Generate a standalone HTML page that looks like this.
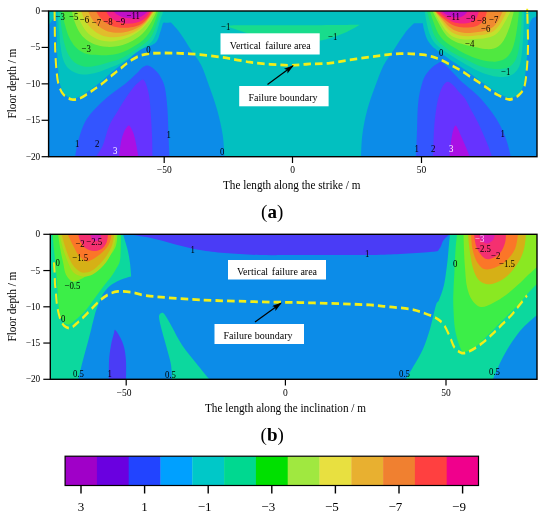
<!DOCTYPE html>
<html><head><meta charset="utf-8"><title>Figure</title>
<style>html,body{margin:0;padding:0;background:#fff}svg{display:block}</style></head>
<body>
<svg width="550" height="523" viewBox="0 0 550 523" font-family="'Liberation Serif', serif">
<defs><marker id="ah" markerWidth="10" markerHeight="6" refX="9" refY="3" orient="auto" markerUnits="userSpaceOnUse"><path d="M0,0L10,3L0,6L2,3Z" fill="#000"/></marker></defs>
<clipPath id="ca"><rect x="48.6" y="11" width="488.4" height="145.7"/></clipPath>
<g clip-path="url(#ca)">
<rect x="48.6" y="11" width="488.4" height="145.7" fill="#02c0c0"/>
<path d="M48.0,26.0C48.5,25.3 50.0,23.4 51.0,22.0C52.0,20.6 53.2,18.5 54.0,17.5C54.8,16.5 55.6,13.9 56.0,16.0C56.4,18.1 56.3,24.3 56.5,30.0C56.7,35.7 56.8,43.7 57.0,50.0C57.2,56.3 57.5,62.3 58.0,68.0C58.5,73.7 58.9,79.7 60.0,84.0C61.1,88.3 62.5,91.6 64.5,94.0C66.5,96.4 69.4,98.1 72.0,98.5C74.6,98.9 77.0,97.9 80.0,96.5C83.0,95.1 86.7,92.3 90.0,90.0C93.3,87.7 96.3,85.5 100.0,82.5C103.7,79.5 108.3,75.1 112.0,72.0C115.7,68.9 119.2,66.2 122.0,64.0C124.8,61.8 126.8,60.9 129.0,59.0C131.2,57.1 133.3,54.2 135.5,52.5C137.7,50.8 139.2,50.0 142.0,48.7C144.8,47.5 149.5,46.3 152.0,45.0C154.5,43.7 155.7,43.0 157.0,41.0C158.3,39.0 159.0,36.0 160.0,33.0C161.0,30.0 162.5,24.7 163.0,23.0C164.3,22.9 169.7,22.7 171.0,22.6C172.5,24.3 176.7,28.5 180.0,33.0C183.3,37.5 187.1,44.0 190.7,49.4C194.3,54.8 198.3,59.2 201.4,65.4C204.5,71.6 206.7,79.2 209.4,86.8C212.1,94.4 215.2,102.8 217.4,110.8C219.6,118.8 221.5,127.2 222.7,134.9C223.9,142.6 224.2,153.3 224.5,157.0C195.1,157.0 77.4,157.0 48.0,157.0C48.0,135.2 48.0,47.8 48.0,26.0Z" fill="#0c8ce8" />
<path d="M57.5,11.0C57.8,14.2 58.5,24.2 59.0,30.0C59.5,35.8 59.8,41.2 60.5,46.0C61.2,50.8 61.8,55.3 63.0,59.0C64.2,62.7 65.8,65.7 68.0,68.0C70.2,70.3 73.0,71.9 76.0,73.0C79.0,74.1 82.5,74.6 86.0,74.5C89.5,74.4 93.3,73.5 97.0,72.5C100.7,71.5 104.2,70.0 108.0,68.5C111.8,67.0 116.2,65.5 120.0,63.5C123.8,61.5 127.7,58.8 131.0,56.5C134.3,54.2 137.2,51.9 140.0,50.0C142.8,48.1 145.8,46.7 148.0,45.0C150.2,43.3 151.5,42.3 153.0,40.0C154.5,37.7 155.8,34.2 157.0,31.0C158.2,27.8 158.9,24.3 160.0,21.0C161.1,17.7 162.9,12.7 163.5,11.0Z" fill="#12d4a2" />
<path d="M59.5,11.0C59.8,13.8 60.8,22.8 61.5,28.0C62.2,33.2 62.9,37.7 64.0,42.0C65.1,46.3 66.3,50.7 68.0,54.0C69.7,57.3 71.7,60.0 74.0,62.0C76.3,64.0 79.3,65.2 82.0,66.0C84.7,66.8 87.0,67.0 90.0,66.8C93.0,66.6 96.7,65.8 100.0,65.0C103.3,64.2 106.7,63.0 110.0,62.0C113.3,61.0 116.7,60.4 120.0,59.0C123.3,57.6 126.8,55.4 130.0,53.5C133.2,51.6 136.3,49.3 139.0,47.5C141.7,45.7 144.0,44.2 146.0,42.5C148.0,40.8 149.5,39.2 151.0,37.0C152.5,34.8 153.8,31.8 155.0,29.0C156.2,26.2 157.0,23.0 158.0,20.0C159.0,17.0 160.5,12.5 161.0,11.0Z" fill="#20e070" />
<path d="M62.0,11.0C62.5,13.3 63.8,20.7 65.0,25.0C66.2,29.3 67.3,33.4 69.0,37.0C70.7,40.6 72.7,43.9 75.0,46.5C77.3,49.1 80.2,51.1 83.0,52.5C85.8,53.9 88.5,54.3 92.0,54.8C95.5,55.2 100.3,55.2 104.0,55.2C107.7,55.2 110.8,55.0 114.0,54.5C117.2,54.0 120.0,53.2 123.0,52.0C126.0,50.8 129.2,49.1 132.0,47.5C134.8,45.9 137.7,44.2 140.0,42.5C142.3,40.8 144.2,39.1 146.0,37.0C147.8,34.9 149.5,32.7 151.0,30.0C152.5,27.3 153.8,24.2 155.0,21.0C156.2,17.8 157.9,12.7 158.5,11.0Z" fill="#50e840" />
<path d="M72.0,11.0C72.3,12.5 72.8,16.6 74.0,20.0C75.2,23.4 77.0,28.2 79.0,31.5C81.0,34.8 83.3,37.3 86.0,39.5C88.7,41.7 91.7,43.3 95.0,44.5C98.3,45.7 102.3,46.5 106.0,46.8C109.7,47.1 113.3,46.8 117.0,46.2C120.7,45.6 124.7,44.4 128.0,43.0C131.3,41.6 134.3,39.8 137.0,38.0C139.7,36.2 141.8,34.3 144.0,32.0C146.2,29.7 148.2,26.7 150.0,24.0C151.8,21.3 153.4,18.2 154.5,16.0C155.6,13.8 156.2,11.8 156.5,11.0Z" fill="#96e834" />
<path d="M76.5,11.0C77.1,12.7 78.4,17.7 80.0,21.0C81.6,24.3 83.7,28.2 86.0,31.0C88.3,33.8 91.0,35.8 94.0,37.5C97.0,39.2 100.7,40.4 104.0,41.0C107.3,41.6 110.7,41.5 114.0,41.2C117.3,40.9 120.8,40.0 124.0,39.0C127.2,38.0 130.2,36.6 133.0,35.0C135.8,33.4 138.5,31.7 141.0,29.5C143.5,27.3 146.0,24.4 148.0,22.0C150.0,19.6 151.8,16.8 153.0,15.0C154.2,13.2 155.1,11.7 155.5,11.0Z" fill="#c4e02c" />
<path d="M81.0,11.0C81.7,12.5 83.2,17.0 85.0,20.0C86.8,23.0 89.3,26.5 92.0,29.0C94.7,31.5 97.8,33.6 101.0,35.0C104.2,36.4 107.7,37.0 111.0,37.2C114.3,37.5 117.7,37.1 121.0,36.5C124.3,35.9 127.8,34.8 131.0,33.5C134.2,32.2 137.3,30.5 140.0,28.5C142.7,26.5 145.1,23.8 147.0,21.5C148.9,19.2 150.2,16.8 151.5,15.0C152.8,13.2 154.0,11.7 154.5,11.0Z" fill="#e2bc2c" />
<path d="M88.0,11.0C88.7,12.3 90.2,16.4 92.0,19.0C93.8,21.6 96.3,24.4 99.0,26.5C101.7,28.6 104.8,30.4 108.0,31.5C111.2,32.5 114.7,32.8 118.0,32.8C121.3,32.8 124.8,32.3 128.0,31.5C131.2,30.7 134.3,29.3 137.0,28.0C139.7,26.7 142.0,25.2 144.0,23.5C146.0,21.8 147.4,19.6 149.0,17.5C150.6,15.4 152.8,12.1 153.5,11.0Z" fill="#f08a30" />
<path d="M96.0,11.0C96.7,12.1 98.2,15.4 100.0,17.5C101.8,19.6 104.3,21.9 107.0,23.5C109.7,25.1 112.8,26.3 116.0,27.0C119.2,27.7 122.8,27.9 126.0,27.8C129.2,27.7 132.3,27.2 135.0,26.5C137.7,25.8 140.0,24.8 142.0,23.5C144.0,22.2 145.6,20.6 147.0,19.0C148.4,17.4 149.7,15.3 150.5,14.0C151.3,12.7 151.8,11.5 152.0,11.0Z" fill="#ff4a40" />
<path d="M106.0,11.0C106.7,12.0 108.2,15.2 110.0,17.0C111.8,18.8 114.3,20.4 117.0,21.5C119.7,22.6 123.0,23.2 126.0,23.5C129.0,23.8 132.3,23.5 135.0,23.0C137.7,22.5 140.0,21.7 142.0,20.5C144.0,19.3 145.7,17.6 147.0,16.0C148.3,14.4 149.5,11.8 150.0,11.0Z" fill="#f0208c" />
<path d="M113.0,11.0C113.7,11.6 115.2,13.4 117.0,14.5C118.8,15.6 121.5,16.9 124.0,17.5C126.5,18.1 129.3,18.4 132.0,18.3C134.7,18.2 137.8,17.7 140.0,17.0C142.2,16.3 143.7,15.0 145.0,14.0C146.3,13.0 147.5,11.5 148.0,11.0Z" fill="#c010c8" />
<path d="M75.0,157.0C75.7,153.8 77.3,143.8 79.0,138.0C80.7,132.2 82.7,126.5 85.0,122.0C87.3,117.5 90.0,114.5 93.0,111.0C96.0,107.5 99.5,104.2 103.0,101.0C106.5,97.8 110.3,94.8 114.0,92.0C117.7,89.2 121.3,87.0 125.0,84.0C128.7,81.0 133.0,76.8 136.0,74.0C139.0,71.2 141.0,68.4 143.0,67.0C145.0,65.6 146.2,65.2 148.0,65.5C149.8,65.8 152.0,67.2 154.0,69.0C156.0,70.8 158.2,72.8 160.0,76.0C161.8,79.2 163.8,82.3 165.0,88.0C166.2,93.7 166.9,102.2 167.5,110.0C168.1,117.8 168.2,127.2 168.5,135.0C168.8,142.8 169.3,153.3 169.5,157.0Z" fill="#3355ff" />
<path d="M96.0,157.0C97.2,155.0 100.8,150.2 103.0,145.0C105.2,139.8 106.8,131.3 109.3,125.5C111.8,119.7 115.7,114.5 118.2,110.2C120.7,106.0 122.0,103.7 124.5,100.0C127.0,96.3 130.5,91.1 133.0,88.0C135.5,84.9 137.8,82.9 139.5,81.5C141.2,80.1 141.9,79.1 143.0,79.5C144.1,79.9 145.0,81.4 146.0,84.0C147.0,86.6 148.2,90.7 149.0,95.0C149.8,99.3 150.0,103.3 150.5,110.0C151.0,116.7 151.7,127.2 152.0,135.0C152.3,142.8 152.4,153.3 152.5,157.0Z" fill="#6633ff" />
<path d="M119.0,157.0C119.3,154.5 120.2,146.2 121.0,142.0C121.8,137.8 123.0,134.5 124.0,132.0C125.0,129.5 126.2,128.1 127.0,127.0C127.8,125.9 128.3,125.3 129.0,125.5C129.7,125.7 130.2,126.4 131.0,128.0C131.8,129.6 133.1,132.0 134.0,135.0C134.9,138.0 135.8,142.3 136.5,146.0C137.2,149.7 138.2,155.2 138.5,157.0Z" fill="#aa10e4" />
<path d="M361.0,157.0C361.2,153.3 361.3,142.6 362.3,134.9C363.3,127.2 364.9,118.8 367.0,110.8C369.1,102.8 372.2,94.4 375.0,86.8C377.8,79.2 380.3,71.6 383.5,65.4C386.7,59.2 390.4,54.8 394.0,49.4C397.6,44.0 401.7,37.4 405.0,33.0C408.3,28.6 412.5,24.9 414.0,23.3C415.5,23.3 421.3,23.3 422.8,23.3C423.0,24.4 423.3,27.0 424.0,29.6C424.7,32.2 425.7,36.3 427.0,39.0C428.3,41.7 430.2,44.0 432.0,46.0C433.8,48.0 435.8,49.3 438.0,51.0C440.2,52.7 442.6,54.2 445.0,56.0C447.4,57.8 449.3,59.3 452.7,61.6C456.1,63.9 461.2,67.0 465.5,70.0C469.8,73.0 473.9,76.3 478.2,79.4C482.4,82.5 487.4,86.1 491.0,88.5C494.6,90.9 497.2,92.5 500.0,94.0C502.8,95.5 505.7,97.0 508.0,97.5C510.3,98.0 512.0,97.9 514.0,97.0C516.0,96.1 518.3,94.3 520.0,92.0C521.7,89.7 522.9,88.0 524.0,83.0C525.1,78.0 525.8,68.8 526.5,62.0C527.2,55.2 527.6,47.8 528.0,42.0C528.4,36.2 528.4,30.8 529.0,27.0C529.6,23.2 530.5,21.2 531.5,19.5C532.5,17.8 533.9,17.6 535.0,17.0C536.1,16.4 537.5,16.2 538.0,16.0C538.0,39.5 538.0,133.5 538.0,157.0C508.5,157.0 390.5,157.0 361.0,157.0Z" fill="#0c8ce8" />
<path d="M424.7,11.0C425.0,12.8 425.7,18.2 426.5,22.0C427.3,25.8 428.2,30.2 429.5,33.5C430.8,36.8 432.1,39.5 434.0,42.0C435.9,44.5 437.9,46.1 441.0,48.5C444.1,50.9 448.6,53.9 452.7,56.5C456.8,59.1 461.2,61.8 465.5,64.2C469.8,66.6 473.9,69.1 478.2,71.0C482.4,72.9 487.4,74.6 491.0,75.6C494.6,76.6 497.0,76.9 500.0,77.0C503.0,77.1 506.3,76.9 509.0,76.0C511.7,75.1 514.1,73.8 516.0,71.5C517.9,69.2 519.4,67.2 520.6,62.0C521.8,56.8 522.5,46.2 523.0,40.0C523.5,33.8 523.5,29.8 523.7,25.0C523.9,20.2 524.0,13.3 524.0,11.0Z" fill="#12d4a2" />
<path d="M427.0,11.0C427.5,12.8 428.9,18.2 430.0,22.0C431.1,25.8 432.2,30.3 433.5,33.5C434.8,36.7 436.2,38.8 438.0,41.0C439.8,43.2 441.6,44.5 444.0,46.5C446.4,48.5 449.1,50.6 452.7,52.7C456.3,54.8 461.2,56.9 465.5,59.0C469.8,61.1 473.9,63.8 478.2,65.4C482.4,67.0 487.4,68.0 491.0,68.6C494.6,69.2 497.2,69.2 500.0,69.0C502.8,68.8 505.8,68.5 508.0,67.5C510.2,66.5 511.9,65.1 513.5,63.0C515.1,60.9 516.4,58.8 517.5,55.0C518.6,51.2 519.4,45.0 520.0,40.0C520.6,35.0 521.0,29.8 521.3,25.0C521.6,20.2 521.9,13.3 522.0,11.0Z" fill="#20e070" />
<path d="M429.8,11.0C430.4,12.8 432.2,18.5 433.5,22.0C434.8,25.5 436.1,29.2 437.5,32.0C438.9,34.8 440.4,36.7 442.0,38.5C443.6,40.3 444.8,41.4 447.0,43.0C449.2,44.6 451.9,46.2 455.0,48.0C458.1,49.8 461.6,52.2 465.5,54.0C469.4,55.8 473.9,57.7 478.2,59.0C482.4,60.3 487.5,61.3 491.0,61.6C494.5,61.9 496.5,61.6 499.0,61.0C501.5,60.4 503.9,59.7 506.0,58.0C508.1,56.3 510.0,54.0 511.5,51.0C513.0,48.0 514.0,44.3 515.0,40.0C516.0,35.7 516.8,29.8 517.5,25.0C518.2,20.2 518.8,13.3 519.0,11.0Z" fill="#50e840" />
<path d="M432.4,11.0C433.2,12.7 435.8,17.8 437.5,21.0C439.2,24.2 440.8,27.3 442.5,30.0C444.2,32.7 445.9,35.1 448.0,37.0C450.1,38.9 452.3,40.2 455.0,41.5C457.7,42.8 460.7,43.6 464.0,44.5C467.3,45.4 471.5,46.2 475.0,47.0C478.5,47.8 481.8,48.8 485.0,49.0C488.2,49.2 491.3,49.3 494.0,48.5C496.7,47.7 499.0,46.1 501.0,44.0C503.0,41.9 504.4,39.3 506.0,36.0C507.6,32.7 509.2,28.2 510.5,24.0C511.8,19.8 513.4,13.2 514.0,11.0Z" fill="#96e834" />
<path d="M433.6,11.0C434.6,12.7 437.6,17.9 439.5,21.0C441.4,24.1 443.1,27.1 445.0,29.5C446.9,31.9 448.8,34.0 451.0,35.5C453.2,37.0 455.3,37.8 458.0,38.5C460.7,39.2 464.0,39.4 467.0,39.5C470.0,39.6 472.8,39.2 476.0,39.0C479.2,38.8 483.0,38.6 486.0,38.0C489.0,37.4 491.7,36.8 494.0,35.5C496.3,34.2 498.0,32.6 500.0,30.0C502.0,27.4 504.2,23.2 506.0,20.0C507.8,16.8 509.9,12.5 510.7,11.0Z" fill="#c4e02c" />
<path d="M434.5,11.0C435.6,12.5 438.9,17.2 441.0,20.0C443.1,22.8 445.0,25.8 447.0,28.0C449.0,30.2 450.8,31.8 453.0,33.0C455.2,34.2 457.5,35.0 460.0,35.5C462.5,36.0 465.3,36.3 468.0,36.3C470.7,36.3 473.2,35.8 476.0,35.5C478.8,35.2 482.2,35.2 485.0,34.5C487.8,33.8 490.7,33.0 493.0,31.5C495.3,30.0 497.2,27.9 499.0,25.5C500.8,23.1 502.7,19.4 504.0,17.0C505.3,14.6 506.5,12.0 507.0,11.0Z" fill="#e2bc2c" />
<path d="M435.0,11.0C436.2,12.3 439.7,16.4 442.0,19.0C444.3,21.6 446.8,24.6 449.0,26.5C451.2,28.4 452.8,29.5 455.0,30.5C457.2,31.5 459.5,32.1 462.0,32.5C464.5,32.9 467.3,33.1 470.0,33.0C472.7,32.9 475.3,32.4 478.0,32.0C480.7,31.6 483.5,31.3 486.0,30.5C488.5,29.7 491.0,28.6 493.0,27.0C495.0,25.4 496.7,23.0 498.0,21.0C499.3,19.0 500.2,16.7 501.0,15.0C501.8,13.3 502.7,11.7 503.0,11.0Z" fill="#f08a30" />
<path d="M435.5,11.0C436.8,12.2 440.6,15.9 443.0,18.0C445.4,20.1 447.7,22.1 450.0,23.5C452.3,24.9 454.3,25.8 457.0,26.5C459.7,27.2 463.0,27.5 466.0,27.5C469.0,27.5 472.7,27.1 475.0,26.5C477.3,25.9 478.5,25.1 480.0,24.0C481.5,22.9 483.0,21.5 484.0,20.0C485.0,18.5 485.5,16.5 486.0,15.0C486.5,13.5 486.8,11.7 487.0,11.0Z" fill="#ff4a40" />
<path d="M438.5,11.0C439.6,12.0 442.6,15.2 445.0,17.0C447.4,18.8 450.2,20.9 453.0,22.0C455.8,23.1 459.2,23.4 462.0,23.5C464.8,23.6 467.7,23.3 470.0,22.5C472.3,21.7 474.5,20.4 476.0,18.5C477.5,16.6 478.5,12.2 479.0,11.0Z" fill="#f0208c" />
<path d="M441.0,11.0C442.0,11.7 444.7,13.9 447.0,15.0C449.3,16.1 452.5,17.2 455.0,17.5C457.5,17.8 460.2,17.2 462.0,16.5C463.8,15.8 465.1,14.4 466.0,13.5C466.9,12.6 467.2,11.4 467.5,11.0Z" fill="#c010c8" />
<path d="M416.0,157.0C416.2,152.5 416.7,138.0 417.0,130.0C417.3,122.0 417.3,115.1 417.7,109.0C418.1,102.9 418.6,98.4 419.6,93.2C420.7,88.0 422.2,82.0 424.0,78.0C425.8,74.0 428.1,71.5 430.4,69.0C432.7,66.5 436.1,64.4 438.0,63.3C439.9,62.2 440.1,61.5 442.0,62.5C443.9,63.5 446.8,66.4 449.5,69.0C452.2,71.6 455.4,75.4 458.0,78.0C460.6,80.6 461.7,81.6 465.0,84.5C468.3,87.4 474.1,91.9 477.7,95.4C481.3,98.9 483.8,102.1 486.6,105.5C489.4,108.9 491.7,111.8 494.3,115.7C496.9,119.6 499.9,124.6 502.0,129.0C504.1,133.4 505.5,137.3 507.0,142.0C508.5,146.7 510.3,154.5 511.0,157.0Z" fill="#3355ff" />
<path d="M433.0,157.0C433.2,152.5 433.5,138.0 434.0,130.0C434.5,122.0 435.3,114.9 436.2,109.0C437.1,103.1 438.2,98.4 439.4,94.5C440.6,90.6 441.8,87.6 443.2,85.5C444.6,83.4 446.0,81.8 447.6,81.7C449.2,81.6 451.1,83.3 453.0,85.0C454.9,86.7 457.0,89.8 459.0,92.0C461.0,94.2 462.9,95.4 465.0,98.5C467.1,101.6 469.3,106.7 471.4,110.6C473.5,114.5 475.6,117.8 477.7,122.0C479.8,126.2 482.1,131.7 484.0,136.0C485.9,140.3 487.7,144.5 489.0,148.0C490.3,151.5 491.5,155.5 492.0,157.0Z" fill="#6633ff" />
<path d="M449.5,157.0C449.8,154.5 450.4,146.3 451.0,142.0C451.6,137.7 452.2,133.8 453.0,131.0C453.8,128.2 454.7,125.8 455.5,125.5C456.3,125.2 457.1,127.2 458.0,129.0C458.9,130.8 459.8,133.3 461.0,136.0C462.2,138.7 463.5,141.5 465.0,145.0C466.5,148.5 469.2,155.0 470.0,157.0Z" fill="#aa10e4" />
<path d="M225.0,25.5C227.5,25.5 234.2,25.4 240.0,25.3C245.8,25.2 250.0,25.2 260.0,25.2C270.0,25.2 286.7,25.2 300.0,25.2C313.3,25.2 330.0,25.1 340.0,25.0C350.0,24.9 356.7,24.8 360.0,24.8L360.0,24.8C357.8,26.0 351.4,29.9 346.7,32.0C342.0,34.1 336.4,36.2 332.0,37.6C327.6,39.0 325.8,39.8 320.5,40.5C315.2,41.2 308.4,42.2 300.0,42.0C291.6,41.8 279.2,40.6 270.0,39.0C260.8,37.4 252.5,34.8 245.0,32.5C237.5,30.2 228.3,26.7 225.0,25.5Z" fill="#18dc8c" />
</g>
<g transform="scale(1,1.35)"><path d="M54.6,8.1C54.6,10.5 54.7,17.4 54.8,22.2C54.9,27.0 55.0,32.3 55.2,37.0C55.5,41.7 55.8,46.2 56.3,50.4C56.8,54.6 57.3,59.0 58.5,62.2C59.7,65.5 61.2,68.1 63.5,70.0C65.8,71.9 69.2,73.3 72.0,73.7C74.8,74.1 77.3,73.6 80.5,72.6C83.7,71.6 87.6,69.4 91.0,67.8C94.4,66.1 97.3,64.7 101.0,62.6C104.7,60.5 109.3,57.4 113.0,55.2C116.7,53.0 120.2,50.9 123.0,49.3C125.8,47.6 127.2,46.5 130.0,45.2C132.8,43.9 136.7,42.2 140.0,41.3C143.3,40.4 146.7,40.0 150.0,39.7C153.3,39.4 155.0,39.3 160.0,39.3C165.0,39.2 173.3,39.3 180.0,39.5C186.7,39.7 193.3,40.0 200.0,40.4C206.7,40.9 214.2,41.6 220.0,42.2C225.8,42.8 230.0,43.4 235.0,44.1C240.0,44.7 245.8,45.6 250.0,46.1C254.2,46.6 255.0,46.7 260.0,47.0C265.0,47.4 274.7,47.9 280.0,48.1C285.3,48.4 287.0,48.5 292.0,48.4C297.0,48.2 303.7,47.7 310.0,47.4C316.3,47.1 323.3,47.2 330.0,46.7C336.7,46.2 343.3,45.2 350.0,44.4C356.7,43.7 364.2,42.8 370.0,42.2C375.8,41.6 380.0,41.2 385.0,40.7C390.0,40.3 395.0,39.8 400.0,39.7C405.0,39.6 410.8,39.8 415.0,40.0C419.2,40.2 422.0,40.4 425.0,40.7C428.0,41.1 430.5,41.7 433.0,42.2C435.5,42.8 437.2,43.1 440.0,44.1C442.8,45.0 446.7,46.5 450.0,47.8C453.3,49.1 456.7,50.4 460.0,51.9C463.3,53.3 466.7,55.1 470.0,56.7C473.3,58.3 476.7,59.8 480.0,61.5C483.3,63.1 487.0,65.2 490.0,66.7C493.0,68.1 494.7,69.2 498.0,70.4C501.3,71.5 506.3,73.8 510.0,73.7C513.7,73.6 517.5,71.5 520.0,69.6C522.5,67.7 523.8,66.4 525.0,62.2C526.2,58.0 527.0,49.9 527.5,44.4C528.0,39.0 528.0,34.6 528.0,29.6C528.0,24.7 527.6,18.6 527.5,14.8C527.4,11.0 527.2,8.0 527.2,6.7" fill="none" stroke="#f2ee18" stroke-width="2.05" stroke-dasharray="7.5 4.1"/></g>
<line x1="527.2" y1="8.8" x2="527.3" y2="13" stroke="#f2ee18" stroke-width="1.9"/>
<rect x="48.6" y="11" width="488.4" height="145.7" fill="none" stroke="#000" stroke-width="1.4"/>
<line x1="41.6" y1="11" x2="48.6" y2="11" stroke="#000" stroke-width="1.2"/>
<text x="40.2" y="14" font-size="9.3" text-anchor="end" fill="#000" >0</text>
<line x1="41.6" y1="47.425" x2="48.6" y2="47.425" stroke="#000" stroke-width="1.2"/>
<text x="40.2" y="50.425" font-size="9.3" text-anchor="end" fill="#000" >−5</text>
<line x1="41.6" y1="83.85" x2="48.6" y2="83.85" stroke="#000" stroke-width="1.2"/>
<text x="40.2" y="86.85" font-size="9.3" text-anchor="end" fill="#000" >−10</text>
<line x1="41.6" y1="120.275" x2="48.6" y2="120.275" stroke="#000" stroke-width="1.2"/>
<text x="40.2" y="123.275" font-size="9.3" text-anchor="end" fill="#000" >−15</text>
<line x1="41.6" y1="156.7" x2="48.6" y2="156.7" stroke="#000" stroke-width="1.2"/>
<text x="40.2" y="159.7" font-size="9.3" text-anchor="end" fill="#000" >−20</text>
<line x1="164.2" y1="156.7" x2="164.2" y2="163" stroke="#000" stroke-width="1.2"/>
<text x="156.8" y="173.2" font-size="9.5" text-anchor="start" fill="#000" >−50</text>
<line x1="292.5" y1="156.7" x2="292.5" y2="163" stroke="#000" stroke-width="1.2"/>
<text x="292.5" y="173.2" font-size="9.5" text-anchor="middle" fill="#000" >0</text>
<line x1="421.5" y1="156.7" x2="421.5" y2="163" stroke="#000" stroke-width="1.2"/>
<text x="421.5" y="173.2" font-size="9.5" text-anchor="middle" fill="#000" >50</text>
<text x="223" y="188.9" font-size="11.8" text-anchor="start" fill="#000" textLength="137.5" lengthAdjust="spacingAndGlyphs">The length along the strike / m</text>
<text transform="translate(16.3,83.6) rotate(-90)" font-size="11.8" text-anchor="middle" textLength="70" lengthAdjust="spacingAndGlyphs">Floor depth / m</text>
<rect x="220.5" y="33.3" width="99.2" height="21.2" fill="#fff"/>
<text y="48.6" font-size="10"><tspan x="229.8">Vertical </tspan><tspan x="265.3">failure </tspan><tspan x="294">area</tspan></text>
<rect x="239.2" y="86" width="89.4" height="20.3" fill="#fff"/>
<text x="248.5" y="100.8" font-size="10" text-anchor="start" fill="#000" word-spacing="0.5">Failure boundary</text>
<line x1="267.5" y1="84.5" x2="293" y2="65.8" stroke="#000" stroke-width="1.2" marker-end="url(#ah)"/>
<text transform="translate(55.5,19.8) scale(1,1.13)" font-size="8.8" fill="#000">−3</text>
<text transform="translate(69,19.5) scale(1,1.13)" font-size="8.8" fill="#000">−5</text>
<text transform="translate(79.7,22.6) scale(1,1.13)" font-size="8.8" fill="#000">−6</text>
<text transform="translate(91.8,25.8) scale(1,1.13)" font-size="8.8" fill="#000">−7</text>
<text transform="translate(103.3,25.2) scale(1,1.13)" font-size="8.8" fill="#000">−8</text>
<text transform="translate(115.7,25.2) scale(1,1.13)" font-size="8.8" fill="#000">−9</text>
<text transform="translate(126.5,18.8) scale(1,1.13)" font-size="8.8" fill="#000">−11</text>
<text transform="translate(81.6,52) scale(1,1.13)" font-size="8.8" fill="#000">−3</text>
<text transform="translate(146.3,52.5) scale(1,1.13)" font-size="8.8" fill="#000">0</text>
<text transform="translate(75,147) scale(1,1.13)" font-size="8.8" fill="#000">1</text>
<text transform="translate(95,147) scale(1,1.13)" font-size="8.8" fill="#000">2</text>
<text transform="translate(166.5,138) scale(1,1.13)" font-size="8.8" fill="#000">1</text>
<text transform="translate(220,154.5) scale(1,1.13)" font-size="8.8" fill="#000">0</text>
<text transform="translate(221,30) scale(1,1.13)" font-size="8.8" fill="#000">−1</text>
<text transform="translate(328,40) scale(1,1.13)" font-size="8.8" fill="#000">−1</text>
<text transform="translate(446.5,20) scale(1,1.13)" font-size="8.8" fill="#000">−11</text>
<text transform="translate(466,22.4) scale(1,1.13)" font-size="8.8" fill="#000">−9</text>
<text transform="translate(477,23.6) scale(1,1.13)" font-size="8.8" fill="#000">−8</text>
<text transform="translate(489,23) scale(1,1.13)" font-size="8.8" fill="#000">−7</text>
<text transform="translate(481,32) scale(1,1.13)" font-size="8.8" fill="#000">−6</text>
<text transform="translate(465,47) scale(1,1.13)" font-size="8.8" fill="#000">−4</text>
<text transform="translate(501,75) scale(1,1.13)" font-size="8.8" fill="#000">−1</text>
<text transform="translate(439,56) scale(1,1.13)" font-size="8.8" fill="#000">0</text>
<text transform="translate(414.5,152.4) scale(1,1.13)" font-size="8.8" fill="#000">1</text>
<text transform="translate(431,152.4) scale(1,1.13)" font-size="8.8" fill="#000">2</text>
<text transform="translate(500.5,137) scale(1,1.13)" font-size="8.8" fill="#000">1</text>
<text transform="translate(113,154) scale(1,1.13)" font-size="8.8" fill="#fff">3</text>
<text transform="translate(449,152.4) scale(1,1.13)" font-size="8.8" fill="#fff">3</text>
<text x="272.2" y="217.5" font-size="19" text-anchor="middle">(<tspan font-weight="bold">a</tspan>)</text>
<clipPath id="cb"><rect x="50.3" y="234.3" width="486.7" height="145"/></clipPath>
<g clip-path="url(#cb)">
<rect x="50.3" y="234.3" width="486.7" height="145" fill="#0c8ce8"/>
<path d="M126.0,234.0C130.2,234.7 142.8,236.3 151.0,238.0C159.2,239.7 167.3,242.4 175.5,244.4C183.7,246.4 191.8,248.6 200.0,250.0C208.2,251.4 215.0,252.2 225.0,253.0C235.0,253.8 247.5,254.7 260.0,255.0C272.5,255.3 281.7,255.0 300.0,255.0C318.3,255.0 353.3,255.2 370.0,255.0C386.7,254.8 390.0,254.5 400.0,254.0C410.0,253.5 423.7,252.5 430.0,252.0C436.3,251.5 436.7,251.2 438.0,251.0C438.5,250.2 440.2,247.7 441.0,246.0C441.8,244.3 442.0,242.6 443.0,241.0C444.0,239.4 445.8,237.7 447.0,236.5C448.2,235.3 449.5,234.4 450.0,234.0Z" fill="#4a3cf6" />
<path d="M123.0,234.0C123.7,236.5 126.2,244.2 127.4,249.0C128.6,253.8 129.4,258.4 130.0,263.0C130.6,267.6 131.0,274.2 131.2,276.5C130.0,276.8 126.3,277.7 124.0,278.5C121.7,279.3 119.7,280.0 117.4,281.2C115.1,282.4 112.6,283.6 110.4,285.5C108.2,287.4 105.7,290.1 104.0,292.5C102.3,294.9 101.4,297.6 100.2,300.2C99.0,302.8 98.0,305.2 97.0,307.8C96.0,310.4 95.4,312.6 94.5,316.0C93.6,319.4 92.5,323.8 91.5,328.0C90.5,332.2 89.6,335.7 88.2,341.0C86.8,346.3 84.7,353.4 83.0,360.0C81.3,366.6 78.8,376.9 78.0,380.3C73.2,380.3 53.8,380.3 49.0,380.3C49.0,355.9 49.0,258.4 49.0,234.0C61.3,234.0 110.7,234.0 123.0,234.0Z" fill="#0cd89e" />
<path d="M52.5,234.0C52.8,236.7 53.4,244.0 54.0,250.0C54.6,256.0 55.4,263.3 56.0,270.0C56.6,276.7 57.1,284.2 57.5,290.0C57.9,295.8 58.0,300.7 58.5,305.0C59.0,309.3 59.6,313.1 60.5,316.0C61.4,318.9 62.6,321.1 64.0,322.5C65.4,323.9 67.0,324.9 69.0,324.4C71.0,323.9 73.2,321.9 76.0,319.5C78.8,317.1 83.2,313.2 86.0,310.0C88.8,306.8 90.7,303.7 93.0,300.5C95.3,297.3 97.8,294.0 100.0,291.0C102.2,288.0 104.5,285.1 106.5,282.5C108.5,279.9 110.4,277.8 112.0,275.5C113.6,273.2 114.8,271.1 116.0,269.0C117.2,266.9 118.5,265.3 119.3,263.0C120.0,260.7 120.2,259.8 120.5,255.0C120.8,250.2 120.9,237.5 121.0,234.0Z" fill="#3cee48" />
<path d="M58.0,234.0C58.4,236.5 59.5,244.3 60.3,249.0C61.1,253.7 62.0,257.7 63.0,262.0C64.0,266.3 64.4,271.4 66.0,274.7C67.6,277.9 70.2,280.7 72.5,281.5C74.8,282.3 77.7,280.4 80.0,279.5C82.3,278.6 83.0,278.1 86.2,276.0C89.4,273.9 95.4,270.0 99.0,267.0C102.6,264.0 105.2,261.3 108.0,258.0C110.8,254.7 113.9,251.0 115.5,247.0C117.1,243.0 117.2,236.2 117.5,234.0Z" fill="#8ae822" />
<path d="M59.3,234.0C60.0,236.7 62.0,245.1 63.5,250.0C65.0,254.9 66.9,259.8 68.5,263.5C70.1,267.2 71.2,270.0 73.0,272.0C74.8,274.0 76.8,274.8 79.0,275.5C81.2,276.2 83.5,276.9 86.2,276.5C88.9,276.1 91.7,275.3 95.0,273.0C98.3,270.7 102.9,266.7 106.0,262.5C109.1,258.3 111.8,252.8 113.5,248.0C115.2,243.2 115.6,236.3 116.0,234.0Z" fill="#b8d41c" />
<path d="M61.5,234.0C62.3,236.7 64.5,245.3 66.3,250.4C68.1,255.5 70.2,260.9 72.5,264.4C74.8,267.9 77.5,270.0 79.8,271.4C82.1,272.8 83.9,272.9 86.2,272.6C88.5,272.3 90.8,271.7 93.8,269.5C96.8,267.3 101.0,263.1 104.0,259.3C107.0,255.5 109.9,250.7 111.6,246.5C113.3,242.3 113.8,236.1 114.2,234.0Z" fill="#d6b016" />
<path d="M67.5,234.0C68.4,235.9 71.2,241.9 73.0,245.3C74.8,248.7 75.9,251.6 78.0,254.2C80.1,256.8 83.3,260.0 85.5,261.0C87.7,262.0 88.6,261.3 91.3,260.0C94.0,258.7 98.5,255.7 101.5,253.0C104.5,250.3 107.3,247.2 109.0,244.0C110.7,240.8 111.2,235.7 111.6,234.0Z" fill="#fb7628" />
<path d="M78.0,234.0C78.5,235.4 79.6,240.3 81.0,242.7C82.4,245.1 84.1,247.1 86.2,248.5C88.3,249.9 91.2,250.9 93.8,251.0C96.3,251.1 99.4,250.4 101.5,249.0C103.6,247.6 105.4,245.2 106.5,242.7C107.6,240.2 107.8,235.4 108.0,234.0Z" fill="#f43070" />
<path d="M90.0,234.0C90.3,234.8 91.0,237.8 92.0,239.0C93.0,240.2 94.7,241.0 96.0,241.0C97.3,241.0 99.1,240.2 100.0,239.0C100.9,237.8 101.2,234.8 101.5,234.0Z" fill="#d820b0" />
<path d="M109.0,380.3C109.0,377.1 108.7,366.9 109.0,361.0C109.3,355.1 110.2,349.7 111.0,345.0C111.8,340.3 113.3,335.5 114.0,333.0C114.7,330.5 114.3,329.3 115.3,330.0C116.3,330.7 118.5,334.2 120.0,337.0C121.5,339.8 123.0,343.0 124.0,347.0C125.0,351.0 125.7,355.4 126.0,361.0C126.3,366.6 126.0,377.1 126.0,380.3Z" fill="#4a3cf6" />
<path d="M172.0,380.3C171.8,377.8 171.8,370.2 171.0,365.0C170.2,359.8 168.5,354.7 167.0,349.0C165.5,343.3 163.3,336.3 162.0,331.0C160.7,325.7 159.1,320.0 159.0,317.0C158.9,314.0 160.5,313.3 161.5,313.0C162.5,312.7 163.2,312.7 165.0,315.0C166.8,317.3 169.2,322.0 172.0,327.0C174.8,332.0 178.0,339.0 182.0,345.0C186.0,351.0 191.3,357.1 196.0,363.0C200.7,368.9 207.7,377.4 210.0,380.3Z" fill="#0cd89e" />
<path d="M450.0,234.0C449.8,236.7 449.0,244.8 448.5,250.0C448.0,255.2 447.8,259.2 447.0,265.0C446.2,270.8 445.3,279.2 444.0,285.0C442.7,290.8 440.3,296.7 439.0,300.0C437.7,303.3 437.5,300.2 436.0,305.0C434.5,309.8 432.2,321.7 430.0,329.0C427.8,336.3 425.8,342.7 423.0,349.0C420.2,355.3 416.0,361.8 413.0,367.0C410.0,372.2 406.3,378.1 405.0,380.3C419.6,380.3 477.9,380.3 492.5,380.3C493.9,377.1 498.1,366.9 501.0,361.0C503.9,355.1 506.8,350.0 510.0,345.0C513.2,340.0 516.7,335.0 520.0,331.0C523.3,327.0 527.0,323.8 530.0,321.0C533.0,318.2 536.7,315.2 538.0,314.0C538.0,300.7 538.0,247.3 538.0,234.0C523.3,234.0 464.7,234.0 450.0,234.0Z" fill="#0cd89e" />
<path d="M457.0,234.0C456.8,236.7 455.9,244.0 455.5,250.0C455.1,256.0 454.8,263.3 454.5,270.0C454.2,276.7 453.7,284.2 453.5,290.0C453.3,295.8 453.1,298.5 453.3,305.0C453.6,311.5 453.9,322.0 455.0,329.0C456.1,336.0 458.5,343.2 460.0,347.0C461.5,350.8 461.7,351.8 464.0,352.0C466.3,352.2 470.3,350.5 474.0,348.0C477.7,345.5 481.7,341.2 486.0,337.0C490.3,332.8 495.3,327.7 500.0,323.0C504.7,318.3 511.0,312.0 514.0,309.0C517.0,306.0 515.3,308.0 518.0,305.0C520.7,302.0 526.7,294.7 530.0,291.0C533.3,287.3 536.7,284.3 538.0,283.0C538.0,274.8 538.0,242.2 538.0,234.0C524.5,234.0 470.5,234.0 457.0,234.0Z" fill="#3cee48" />
<path d="M463.5,234.0C463.6,236.7 463.8,244.3 464.0,250.0C464.2,255.7 464.5,261.8 465.0,268.0C465.5,274.2 465.8,281.7 467.0,287.0C468.2,292.3 469.7,296.7 472.0,300.0C474.3,303.3 477.5,306.5 481.0,307.0C484.5,307.5 488.8,305.0 493.0,303.0C497.2,301.0 501.5,298.3 506.0,295.0C510.5,291.7 516.3,286.3 520.0,283.0C523.7,279.7 525.0,277.8 528.0,275.0C531.0,272.2 536.3,267.5 538.0,266.0C538.0,260.7 538.0,239.3 538.0,234.0C525.6,234.0 475.9,234.0 463.5,234.0Z" fill="#8ae822" />
<path d="M468.0,234.0C468.2,235.8 468.4,240.3 469.0,245.0C469.6,249.7 470.4,257.0 471.5,262.0C472.6,267.0 473.8,271.6 475.5,275.0C477.2,278.4 479.2,281.0 482.0,282.5C484.8,284.0 488.0,284.9 492.0,284.0C496.0,283.1 501.7,280.5 506.0,277.0C510.3,273.5 515.0,267.7 518.0,263.0C521.0,258.3 522.7,253.8 524.0,249.0C525.3,244.2 525.7,236.5 526.0,234.0Z" fill="#d6b016" />
<path d="M471.0,234.0C471.2,236.5 471.5,244.3 472.5,249.0C473.5,253.7 475.1,258.7 477.0,262.0C478.9,265.3 481.2,268.0 484.0,269.0C486.8,270.0 490.3,269.3 494.0,268.0C497.7,266.7 502.5,264.2 506.0,261.0C509.5,257.8 513.0,253.5 515.0,249.0C517.0,244.5 517.5,236.5 518.0,234.0Z" fill="#fb7628" />
<path d="M474.0,234.0C474.4,236.2 475.0,243.2 476.5,247.0C478.0,250.8 480.8,255.0 483.0,257.0C485.2,259.0 487.2,259.7 490.0,259.0C492.8,258.3 497.5,255.7 500.0,253.0C502.5,250.3 504.0,246.2 505.0,243.0C506.0,239.8 505.8,235.5 506.0,234.0Z" fill="#f43070" />
<path d="M479.0,234.0C479.3,235.0 479.7,238.4 481.0,240.0C482.3,241.6 485.0,243.5 487.0,243.5C489.0,243.5 491.7,241.6 493.0,240.0C494.3,238.4 494.7,235.0 495.0,234.0Z" fill="#d820b0" />
</g>
<g transform="scale(1,1.35)"><path d="M54.0,194.4C54.1,195.4 54.3,197.3 54.5,200.0C54.7,202.7 54.8,207.9 55.0,210.4C55.2,212.8 55.4,212.2 55.7,214.8C56.0,217.4 56.3,222.5 57.0,225.9C57.7,229.4 58.8,233.0 60.0,235.6C61.2,238.1 62.3,240.0 64.0,241.2C65.7,242.4 68.4,243.2 70.4,243.0C72.4,242.8 73.7,241.4 76.0,240.0C78.3,238.6 81.2,236.6 84.0,234.6C86.8,232.6 89.8,230.1 92.5,228.0C95.2,225.9 97.8,223.9 100.5,222.2C103.2,220.5 106.1,219.0 109.0,217.9C111.9,216.9 114.3,216.2 118.0,215.9C121.7,215.7 125.7,215.9 131.0,216.4C136.3,217.0 138.5,218.3 150.0,219.3C161.5,220.2 181.7,221.4 200.0,222.1C218.3,222.8 243.3,223.2 260.0,223.6C276.7,223.9 286.7,223.9 300.0,224.1C313.3,224.4 328.3,224.7 340.0,225.0C351.7,225.3 361.7,225.5 370.0,225.9C378.3,226.3 383.3,226.9 390.0,227.4C396.7,227.9 404.3,228.1 410.0,228.9C415.7,229.6 419.7,230.7 424.0,231.9C428.3,233.0 432.7,234.1 436.0,235.6C439.3,237.0 441.7,238.4 444.0,240.7C446.3,243.1 448.2,246.9 450.0,249.6C451.8,252.4 452.5,255.4 454.5,257.4C456.5,259.4 459.4,261.0 462.0,261.5C464.6,261.9 466.8,261.1 470.0,260.0C473.2,258.9 477.4,256.8 481.0,254.8C484.6,252.8 488.1,250.5 491.5,248.1C494.9,245.8 498.2,243.2 501.5,240.7C504.8,238.3 508.5,235.8 511.5,233.3C514.5,230.9 516.9,228.3 519.5,225.9C522.1,223.5 525.8,220.1 527.0,218.9" fill="none" stroke="#f2ee18" stroke-width="2.05" stroke-dasharray="7.5 4.1"/></g>
<rect x="50.3" y="234.3" width="486.7" height="145" fill="none" stroke="#000" stroke-width="1.4"/>
<line x1="43.3" y1="234.3" x2="50.3" y2="234.3" stroke="#000" stroke-width="1.2"/>
<text x="40.2" y="237.3" font-size="9.3" text-anchor="end" fill="#000" >0</text>
<line x1="43.3" y1="270.55" x2="50.3" y2="270.55" stroke="#000" stroke-width="1.2"/>
<text x="40.2" y="273.55" font-size="9.3" text-anchor="end" fill="#000" >−5</text>
<line x1="43.3" y1="306.8" x2="50.3" y2="306.8" stroke="#000" stroke-width="1.2"/>
<text x="40.2" y="309.8" font-size="9.3" text-anchor="end" fill="#000" >−10</text>
<line x1="43.3" y1="343.05" x2="50.3" y2="343.05" stroke="#000" stroke-width="1.2"/>
<text x="40.2" y="346.05" font-size="9.3" text-anchor="end" fill="#000" >−15</text>
<line x1="43.3" y1="379.3" x2="50.3" y2="379.3" stroke="#000" stroke-width="1.2"/>
<text x="40.2" y="382.3" font-size="9.3" text-anchor="end" fill="#000" >−20</text>
<line x1="126.2" y1="379.3" x2="126.2" y2="385.6" stroke="#000" stroke-width="1.2"/>
<text x="116.6" y="395.8" font-size="9.5" text-anchor="start" fill="#000" >−50</text>
<line x1="285.4" y1="379.3" x2="285.4" y2="385.6" stroke="#000" stroke-width="1.2"/>
<text x="285.4" y="395.8" font-size="9.5" text-anchor="middle" fill="#000" >0</text>
<line x1="446" y1="379.3" x2="446" y2="385.6" stroke="#000" stroke-width="1.2"/>
<text x="446" y="395.8" font-size="9.5" text-anchor="middle" fill="#000" >50</text>
<text x="205" y="412.3" font-size="11.8" text-anchor="start" fill="#000" textLength="161" lengthAdjust="spacingAndGlyphs">The length along the inclination / m</text>
<text transform="translate(16.3,306.6) rotate(-90)" font-size="11.8" text-anchor="middle" textLength="70" lengthAdjust="spacingAndGlyphs">Floor depth / m</text>
<rect x="228" y="260" width="98" height="19.5" fill="#fff"/>
<text y="274.5" font-size="10"><tspan x="237">Vertical </tspan><tspan x="271.8">failure </tspan><tspan x="300.4">area</tspan></text>
<rect x="214.5" y="324" width="89.5" height="20" fill="#fff"/>
<text x="223.5" y="338.7" font-size="10" text-anchor="start" fill="#000" word-spacing="0.5">Failure boundary</text>
<line x1="255" y1="322" x2="281" y2="303.2" stroke="#000" stroke-width="1.2" marker-end="url(#ah)"/>
<text transform="translate(75.4,247) scale(1,1.13)" font-size="8.8" fill="#000">−2</text>
<text transform="translate(86.2,244.6) scale(1,1.13)" font-size="8.8" fill="#000">−2.5</text>
<text transform="translate(72.2,261.2) scale(1,1.13)" font-size="8.8" fill="#000">−1.5</text>
<text transform="translate(55.6,265.6) scale(1,1.13)" font-size="8.8" fill="#000">0</text>
<text transform="translate(64.5,289.4) scale(1,1.13)" font-size="8.8" fill="#000">−0.5</text>
<text transform="translate(61,322) scale(1,1.13)" font-size="8.8" fill="#000">0</text>
<text transform="translate(190.5,253) scale(1,1.13)" font-size="8.8" fill="#000">1</text>
<text transform="translate(365,257) scale(1,1.13)" font-size="8.8" fill="#000">1</text>
<text transform="translate(73,377.4) scale(1,1.13)" font-size="8.8" fill="#000">0.5</text>
<text transform="translate(107.5,377.4) scale(1,1.13)" font-size="8.8" fill="#000">1</text>
<text transform="translate(165,378) scale(1,1.13)" font-size="8.8" fill="#000">0.5</text>
<text transform="translate(399,377) scale(1,1.13)" font-size="8.8" fill="#000">0.5</text>
<text transform="translate(489,375) scale(1,1.13)" font-size="8.8" fill="#000">0.5</text>
<text transform="translate(475,252) scale(1,1.13)" font-size="8.8" fill="#000">−2.5</text>
<text transform="translate(491,259) scale(1,1.13)" font-size="8.8" fill="#000">−2</text>
<text transform="translate(499,266.6) scale(1,1.13)" font-size="8.8" fill="#000">−1.5</text>
<text transform="translate(453,267) scale(1,1.13)" font-size="8.8" fill="#000">0</text>
<text transform="translate(475,242) scale(1,1.13)" font-size="8.8" fill="#ffd0f0">−3</text>
<text x="272.2" y="441" font-size="19" text-anchor="middle">(<tspan font-weight="bold">b</tspan>)</text>
<rect x="65.1" y="456.2" width="32.1" height="29.3" fill="#a000c8"/>
<rect x="96.9" y="456.2" width="32.1" height="29.3" fill="#6a00e0"/>
<rect x="128.7" y="456.2" width="32.1" height="29.3" fill="#2244ff"/>
<rect x="160.5" y="456.2" width="32.1" height="29.3" fill="#00a0ff"/>
<rect x="192.3" y="456.2" width="32.1" height="29.3" fill="#00c8c8"/>
<rect x="224.1" y="456.2" width="32.1" height="29.3" fill="#00d890"/>
<rect x="255.9" y="456.2" width="32.1" height="29.3" fill="#00e000"/>
<rect x="287.7" y="456.2" width="32.1" height="29.3" fill="#a0e840"/>
<rect x="319.5" y="456.2" width="32.1" height="29.3" fill="#e8e040"/>
<rect x="351.3" y="456.2" width="32.1" height="29.3" fill="#e8b030"/>
<rect x="383.1" y="456.2" width="32.1" height="29.3" fill="#f08030"/>
<rect x="414.9" y="456.2" width="32.1" height="29.3" fill="#ff4040"/>
<rect x="446.7" y="456.2" width="32.1" height="29.3" fill="#f0008c"/>
<rect x="65.1" y="456.2" width="413.4" height="29.3" fill="none" stroke="#000" stroke-width="1.2"/>
<line x1="81" y1="485.5" x2="81" y2="493.5" stroke="#000" stroke-width="1.4"/>
<text x="81" y="511.1" font-size="13" text-anchor="middle" fill="#000" >3</text>
<line x1="144.6" y1="485.5" x2="144.6" y2="493.5" stroke="#000" stroke-width="1.4"/>
<text x="144.6" y="511.1" font-size="13" text-anchor="middle" fill="#000" >1</text>
<line x1="208.2" y1="485.5" x2="208.2" y2="493.5" stroke="#000" stroke-width="1.4"/>
<text x="197.7" y="511.1" font-size="13" text-anchor="start" fill="#000" >−1</text>
<line x1="271.8" y1="485.5" x2="271.8" y2="493.5" stroke="#000" stroke-width="1.4"/>
<text x="261.3" y="511.1" font-size="13" text-anchor="start" fill="#000" >−3</text>
<line x1="335.4" y1="485.5" x2="335.4" y2="493.5" stroke="#000" stroke-width="1.4"/>
<text x="324.9" y="511.1" font-size="13" text-anchor="start" fill="#000" >−5</text>
<line x1="399" y1="485.5" x2="399" y2="493.5" stroke="#000" stroke-width="1.4"/>
<text x="388.5" y="511.1" font-size="13" text-anchor="start" fill="#000" >−7</text>
<line x1="462.6" y1="485.5" x2="462.6" y2="493.5" stroke="#000" stroke-width="1.4"/>
<text x="452.1" y="511.1" font-size="13" text-anchor="start" fill="#000" >−9</text>
</svg>
</body></html>
